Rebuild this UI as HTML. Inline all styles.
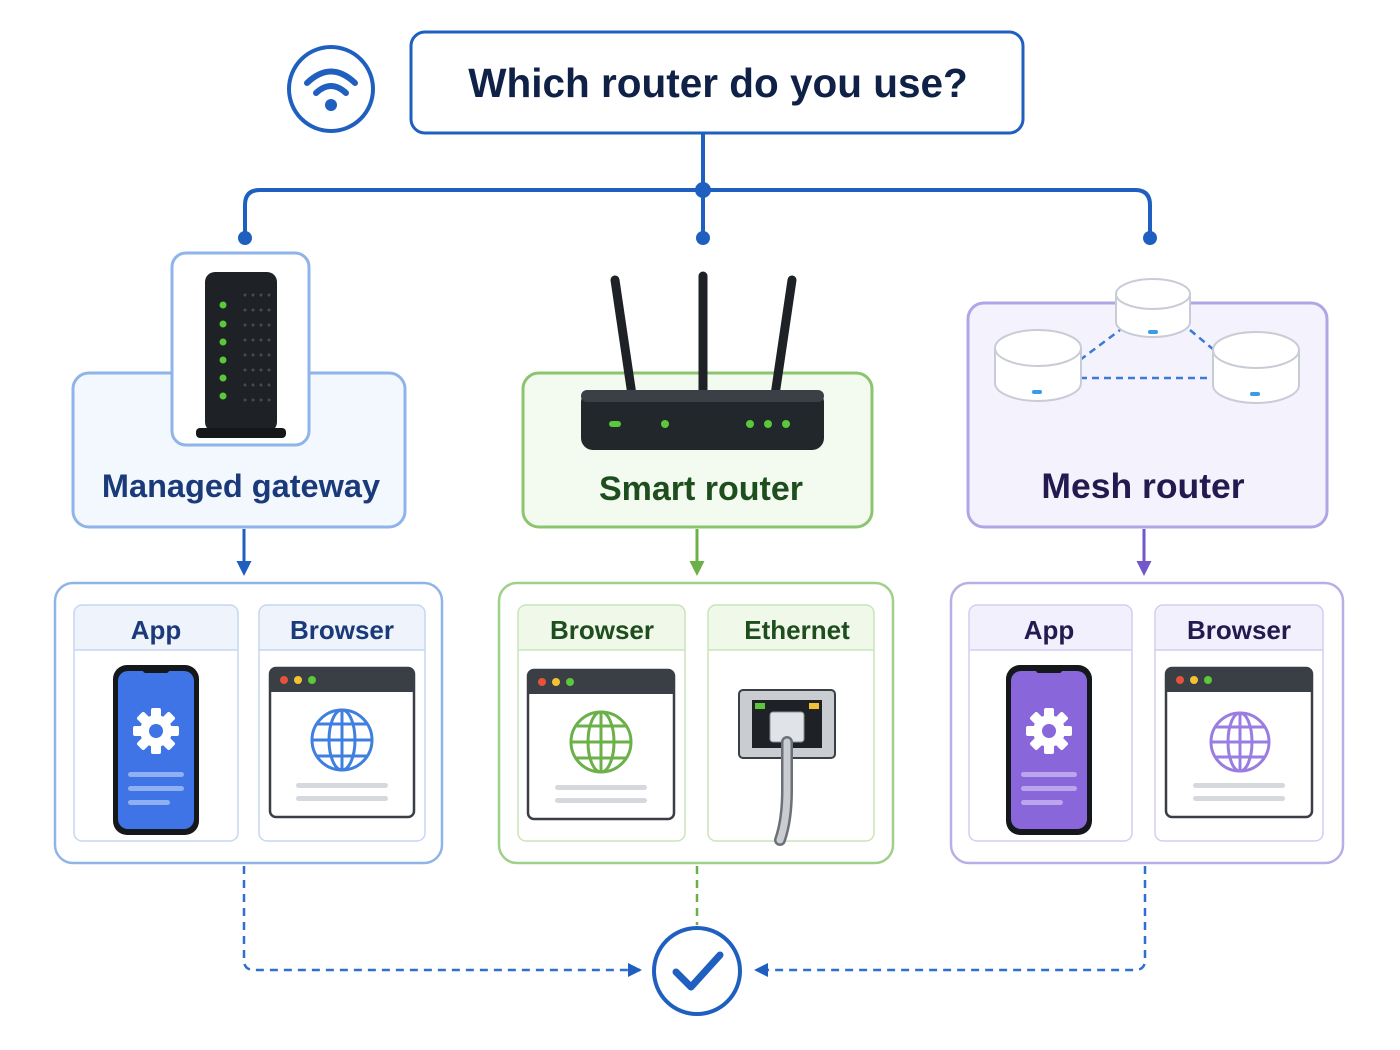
<!DOCTYPE html>
<html><head><meta charset="utf-8"><style>
html,body{margin:0;padding:0;background:#fff;}
svg{display:block;font-family:"Liberation Sans",sans-serif;}
</style></head><body>
<svg width="1400" height="1050" viewBox="0 0 1400 1050" xmlns="http://www.w3.org/2000/svg">
<defs>
<marker id="ab" viewBox="0 0 10 10" refX="8" refY="5" markerWidth="5" markerHeight="5" orient="auto"><path d="M0,0 L10,5 L0,10 z" fill="#1f5fbf"/></marker>
<marker id="ag" viewBox="0 0 10 10" refX="8" refY="5" markerWidth="5" markerHeight="5" orient="auto"><path d="M0,0 L10,5 L0,10 z" fill="#6cb04a"/></marker>
<marker id="ap" viewBox="0 0 10 10" refX="8" refY="5" markerWidth="5" markerHeight="5" orient="auto"><path d="M0,0 L10,5 L0,10 z" fill="#7058c8"/></marker>
</defs>

<circle cx="331" cy="89" r="42" fill="#fff" stroke="#1f5fbf" stroke-width="4"/>
<path d="M307,83 Q331,60 355,83" fill="none" stroke="#1f5fbf" stroke-width="6" stroke-linecap="round"/>
<path d="M316,93 Q331,79 346,93" fill="none" stroke="#1f5fbf" stroke-width="6" stroke-linecap="round"/>
<circle cx="331" cy="105" r="6" fill="#1f5fbf"/>

<rect x="411" y="32" width="612" height="101" rx="14" fill="#fff" stroke="#1f5fbf" stroke-width="3"/>
<text x="718" y="97" text-anchor="middle" font-size="40.5" font-weight="bold" fill="#0f2147">Which router do you use?</text>

<g stroke="#1f5fbf" stroke-width="4" fill="none">
<line x1="703" y1="133" x2="703" y2="237"/>
<path d="M245,237 V205 Q245,190 260,190 H1135 Q1150,190 1150,205 V237"/>
</g>
<circle cx="703" cy="190" r="8" fill="#1f5fbf"/>
<circle cx="245" cy="238" r="7" fill="#1f5fbf"/>
<circle cx="703" cy="238" r="7" fill="#1f5fbf"/>
<circle cx="1150" cy="238" r="7" fill="#1f5fbf"/>

<rect x="73" y="373" width="332" height="154" rx="16" fill="#f3f7fe" stroke="#8fb4ea" stroke-width="3"/>
<rect x="172" y="253" width="137" height="192" rx="14" fill="#fff" stroke="#8fb4ea" stroke-width="3"/>
<rect x="205" y="272" width="72" height="160" rx="10" fill="#1e2226"/>
<rect x="196" y="428" width="90" height="10" rx="4" fill="#15181b"/>
<g fill="#5ac83a"><circle cx="223" cy="305" r="3.5"/><circle cx="223" cy="324" r="3.5"/><circle cx="223" cy="342" r="3.5"/><circle cx="223" cy="360" r="3.5"/><circle cx="223" cy="378" r="3.5"/><circle cx="223" cy="396" r="3.5"/></g>
<g fill="#454b51">
<circle cx="245" cy="295" r="1.5"/><circle cx="253" cy="295" r="1.5"/><circle cx="261" cy="295" r="1.5"/><circle cx="269" cy="295" r="1.5"/>
<circle cx="245" cy="310" r="1.5"/><circle cx="253" cy="310" r="1.5"/><circle cx="261" cy="310" r="1.5"/><circle cx="269" cy="310" r="1.5"/>
<circle cx="245" cy="325" r="1.5"/><circle cx="253" cy="325" r="1.5"/><circle cx="261" cy="325" r="1.5"/><circle cx="269" cy="325" r="1.5"/>
<circle cx="245" cy="340" r="1.5"/><circle cx="253" cy="340" r="1.5"/><circle cx="261" cy="340" r="1.5"/><circle cx="269" cy="340" r="1.5"/>
<circle cx="245" cy="355" r="1.5"/><circle cx="253" cy="355" r="1.5"/><circle cx="261" cy="355" r="1.5"/><circle cx="269" cy="355" r="1.5"/>
<circle cx="245" cy="370" r="1.5"/><circle cx="253" cy="370" r="1.5"/><circle cx="261" cy="370" r="1.5"/><circle cx="269" cy="370" r="1.5"/>
<circle cx="245" cy="385" r="1.5"/><circle cx="253" cy="385" r="1.5"/><circle cx="261" cy="385" r="1.5"/><circle cx="269" cy="385" r="1.5"/>
<circle cx="245" cy="400" r="1.5"/><circle cx="253" cy="400" r="1.5"/><circle cx="261" cy="400" r="1.5"/><circle cx="269" cy="400" r="1.5"/>
</g>
<text x="241" y="497" text-anchor="middle" font-size="32.5" font-weight="bold" fill="#1a3a7a">Managed gateway</text>

<rect x="523" y="373" width="349" height="154" rx="16" fill="#f3faef" stroke="#8cc470" stroke-width="3"/>
<g stroke="#1e2226" stroke-width="9" stroke-linecap="round">
<line x1="615" y1="280" x2="632" y2="395"/>
<line x1="703" y1="276" x2="703" y2="395"/>
<line x1="792" y1="280" x2="775" y2="395"/>
</g>
<rect x="581" y="390" width="243" height="60" rx="12" fill="#22272b"/>
<rect x="581" y="390" width="243" height="12" rx="6" fill="#3a4046"/>
<g fill="#5ac83a"><rect x="609" y="421" width="12" height="6" rx="3"/><circle cx="665" cy="424" r="4"/><circle cx="750" cy="424" r="4"/><circle cx="768" cy="424" r="4"/><circle cx="786" cy="424" r="4"/></g>
<text x="701" y="500" text-anchor="middle" font-size="34" font-weight="bold" fill="#1e4d1e">Smart router</text>

<rect x="968" y="303" width="359" height="224" rx="16" fill="#f4f3fd" stroke="#b0a6e6" stroke-width="3"/>
<g stroke="#3a7bd5" stroke-width="2.5" stroke-dasharray="7,5" fill="none">
<line x1="1080" y1="360" x2="1120" y2="330"/><line x1="1190" y1="330" x2="1220" y2="355"/><line x1="1080" y1="378" x2="1215" y2="378"/>
</g>
<g fill="#fff" stroke="#c8ccd6" stroke-width="2">
<path d="M995,348 v35 a43,18 0 0 0 86,0 v-35"/><ellipse cx="1038" cy="348" rx="43" ry="18"/>
<path d="M1116,294 v28 a37,15 0 0 0 74,0 v-28"/><ellipse cx="1153" cy="294" rx="37" ry="15"/>
<path d="M1213,350 v35 a43,18 0 0 0 86,0 v-35"/><ellipse cx="1256" cy="350" rx="43" ry="18"/>
</g>
<g fill="#3a9be8"><rect x="1032" y="390" width="10" height="4" rx="2"/><rect x="1148" y="330" width="10" height="4" rx="2"/><rect x="1250" y="392" width="10" height="4" rx="2"/></g>
<text x="1143" y="498" text-anchor="middle" font-size="35.5" font-weight="bold" fill="#241a4f">Mesh router</text>

<line x1="244" y1="529" x2="244" y2="573" stroke="#1f5fbf" stroke-width="3" marker-end="url(#ab)"/>
<line x1="697" y1="529" x2="697" y2="573" stroke="#6cb04a" stroke-width="3" marker-end="url(#ag)"/>
<line x1="1144" y1="529" x2="1144" y2="573" stroke="#7058c8" stroke-width="3" marker-end="url(#ap)"/>

<rect x="55" y="583" width="387" height="280" rx="18" fill="#fff" stroke="#8fb4ea" stroke-width="2.5"/>
<rect x="499" y="583" width="394" height="280" rx="18" fill="#fff" stroke="#9fd08a" stroke-width="2.5"/>
<rect x="951" y="583" width="392" height="280" rx="18" fill="#fff" stroke="#b8aee8" stroke-width="2.5"/>

<g stroke-width="1.5">
<path d="M74,650 V613 a8,8 0 0 1 8,-8 H230 a8,8 0 0 1 8,8 V650 z" fill="#eef3fc"/>
<rect x="74" y="605" width="164" height="236" rx="8" fill="none" stroke="#c5d7f2"/>
<line x1="74" y1="650" x2="238" y2="650" stroke="#c5d7f2"/>
<path d="M259,650 V613 a8,8 0 0 1 8,-8 H417 a8,8 0 0 1 8,8 V650 z" fill="#eef3fc"/>
<rect x="259" y="605" width="166" height="236" rx="8" fill="none" stroke="#c5d7f2"/>
<line x1="259" y1="650" x2="425" y2="650" stroke="#c5d7f2"/>
<path d="M518,650 V613 a8,8 0 0 1 8,-8 H677 a8,8 0 0 1 8,8 V650 z" fill="#f0f8ea"/>
<rect x="518" y="605" width="167" height="236" rx="8" fill="none" stroke="#c9e4bb"/>
<line x1="518" y1="650" x2="685" y2="650" stroke="#c9e4bb"/>
<path d="M708,650 V613 a8,8 0 0 1 8,-8 H866 a8,8 0 0 1 8,8 V650 z" fill="#f0f8ea"/>
<rect x="708" y="605" width="166" height="236" rx="8" fill="none" stroke="#c9e4bb"/>
<line x1="708" y1="650" x2="874" y2="650" stroke="#c9e4bb"/>
<path d="M969,650 V613 a8,8 0 0 1 8,-8 H1124 a8,8 0 0 1 8,8 V650 z" fill="#f2f0fc"/>
<rect x="969" y="605" width="163" height="236" rx="8" fill="none" stroke="#d3cdf0"/>
<line x1="969" y1="650" x2="1132" y2="650" stroke="#d3cdf0"/>
<path d="M1155,650 V613 a8,8 0 0 1 8,-8 H1315 a8,8 0 0 1 8,8 V650 z" fill="#f2f0fc"/>
<rect x="1155" y="605" width="168" height="236" rx="8" fill="none" stroke="#d3cdf0"/>
<line x1="1155" y1="650" x2="1323" y2="650" stroke="#d3cdf0"/>
</g>
<g font-size="26" font-weight="bold" text-anchor="middle">
<text x="156" y="639" fill="#1a3a7a">App</text>
<text x="342" y="639" fill="#1a3a7a">Browser</text>
<text x="602" y="639" fill="#1e4d1e">Browser</text>
<text x="797" y="639" fill="#1e4d1e">Ethernet</text>
<text x="1049" y="639" fill="#241a4f">App</text>
<text x="1239" y="639" fill="#241a4f">Browser</text>
</g>

<rect x="113" y="665" width="86" height="170" rx="14" fill="#15181b"/>
<rect x="118" y="671" width="76" height="158" rx="10" fill="#3f74e6"/>
<rect x="143" y="668" width="26" height="5" rx="2.5" fill="#15181b"/>
<g transform="translate(156,731)" fill="#fff">
<circle r="16"/><g><rect x="-5" y="-23" width="10" height="46" rx="2"/><rect x="-5" y="-23" width="10" height="46" rx="2" transform="rotate(45)"/><rect x="-5" y="-23" width="10" height="46" rx="2" transform="rotate(90)"/><rect x="-5" y="-23" width="10" height="46" rx="2" transform="rotate(135)"/></g>
<circle r="7" fill="#3f74e6"/></g>
<g fill="#8fb0f2"><rect x="128" y="772" width="56" height="5" rx="2.5"/><rect x="128" y="786" width="56" height="5" rx="2.5"/><rect x="128" y="800" width="42" height="5" rx="2.5"/></g>

<rect x="1006" y="665" width="86" height="170" rx="14" fill="#15181b"/>
<rect x="1011" y="671" width="76" height="158" rx="10" fill="#8a66db"/>
<rect x="1036" y="668" width="26" height="5" rx="2.5" fill="#15181b"/>
<g transform="translate(1049,731)" fill="#fff">
<circle r="16"/><g><rect x="-5" y="-23" width="10" height="46" rx="2"/><rect x="-5" y="-23" width="10" height="46" rx="2" transform="rotate(45)"/><rect x="-5" y="-23" width="10" height="46" rx="2" transform="rotate(90)"/><rect x="-5" y="-23" width="10" height="46" rx="2" transform="rotate(135)"/></g>
<circle r="7" fill="#8a66db"/></g>
<g fill="#bba6ee"><rect x="1021" y="772" width="56" height="5" rx="2.5"/><rect x="1021" y="786" width="56" height="5" rx="2.5"/><rect x="1021" y="800" width="42" height="5" rx="2.5"/></g>

<g>
<rect x="270" y="668" width="144" height="149" rx="6" fill="#fff" stroke="#3a3f45" stroke-width="2.5"/>
<path d="M270,692 V674 a6,6 0 0 1 6,-6 H408 a6,6 0 0 1 6,6 V692 z" fill="#3a3f45"/>
<circle cx="284" cy="680" r="4" fill="#e8523a"/><circle cx="298" cy="680" r="4" fill="#f3c233"/><circle cx="312" cy="680" r="4" fill="#5ac83a"/>
<g fill="none" stroke="#3f7fe0" stroke-width="3"><circle cx="342" cy="740" r="30"/><ellipse cx="342" cy="740" rx="13" ry="30"/><line x1="342" y1="710" x2="342" y2="770"/><line x1="312" y1="740" x2="372" y2="740"/><path d="M317,724 H367 M317,756 H367"/></g>
<g fill="#d5d8dd"><rect x="296" y="783" width="92" height="5" rx="2.5"/><rect x="296" y="796" width="92" height="5" rx="2.5"/></g>
</g>
<g>
<rect x="528" y="670" width="146" height="149" rx="6" fill="#fff" stroke="#3a3f45" stroke-width="2.5"/>
<path d="M528,694 V676 a6,6 0 0 1 6,-6 H668 a6,6 0 0 1 6,6 V694 z" fill="#3a3f45"/>
<circle cx="542" cy="682" r="4" fill="#e8523a"/><circle cx="556" cy="682" r="4" fill="#f3c233"/><circle cx="570" cy="682" r="4" fill="#5ac83a"/>
<g fill="none" stroke="#6cb04a" stroke-width="3"><circle cx="601" cy="742" r="30"/><ellipse cx="601" cy="742" rx="13" ry="30"/><line x1="601" y1="712" x2="601" y2="772"/><line x1="571" y1="742" x2="631" y2="742"/><path d="M576,726 H626 M576,758 H626"/></g>
<g fill="#d5d8dd"><rect x="555" y="785" width="92" height="5" rx="2.5"/><rect x="555" y="798" width="92" height="5" rx="2.5"/></g>
</g>
<g>
<rect x="1166" y="668" width="146" height="149" rx="6" fill="#fff" stroke="#3a3f45" stroke-width="2.5"/>
<path d="M1166,692 V674 a6,6 0 0 1 6,-6 H1306 a6,6 0 0 1 6,6 V692 z" fill="#3a3f45"/>
<circle cx="1180" cy="680" r="4" fill="#e8523a"/><circle cx="1194" cy="680" r="4" fill="#f3c233"/><circle cx="1208" cy="680" r="4" fill="#5ac83a"/>
<g fill="none" stroke="#9a7de0" stroke-width="3"><circle cx="1240" cy="742" r="29"/><ellipse cx="1240" cy="742" rx="12" ry="29"/><line x1="1240" y1="713" x2="1240" y2="771"/><line x1="1211" y1="742" x2="1269" y2="742"/><path d="M1216,727 H1264 M1216,757 H1264"/></g>
<g fill="#d5d8dd"><rect x="1193" y="783" width="92" height="5" rx="2.5"/><rect x="1193" y="796" width="92" height="5" rx="2.5"/></g>
</g>

<rect x="739" y="690" width="96" height="68" rx="4" fill="#c9ccd1" stroke="#3a3f45" stroke-width="2"/>
<rect x="752" y="700" width="70" height="48" fill="#1e2226"/>
<rect x="755" y="703" width="10" height="6" fill="#5ac83a"/><rect x="809" y="703" width="10" height="6" fill="#f3c233"/>
<rect x="770" y="712" width="34" height="30" rx="3" fill="#e0e3e7" stroke="#8a8f96"/>
<path d="M787,742 V790 Q787,820 780,840" fill="none" stroke="#6c7178" stroke-width="12" stroke-linecap="round"/>
<path d="M787,742 V790 Q787,820 780,840" fill="none" stroke="#c9ccd1" stroke-width="7" stroke-linecap="round"/>

<g stroke="#2f6fd0" stroke-width="2.5" stroke-dasharray="8,6" fill="none">
<path d="M244,866 V960 Q244,970 254,970 H640"/>
<path d="M1145,866 V960 Q1145,970 1135,970 H756"/>
</g>
<line x1="697" y1="866" x2="697" y2="925" stroke="#6cb04a" stroke-width="2.5" stroke-dasharray="8,6"/>
<path d="M628,963 L642,970 L628,977 z" fill="#1f5fbf"/>
<path d="M768,963 L754,970 L768,977 z" fill="#1f5fbf"/>
<circle cx="697" cy="971" r="43" fill="#fff" stroke="#1f5fbf" stroke-width="4"/>
<path d="M676,972 L691,987 L720,955" fill="none" stroke="#1f5fbf" stroke-width="7" stroke-linecap="round" stroke-linejoin="round"/>
</svg>
</body></html>
